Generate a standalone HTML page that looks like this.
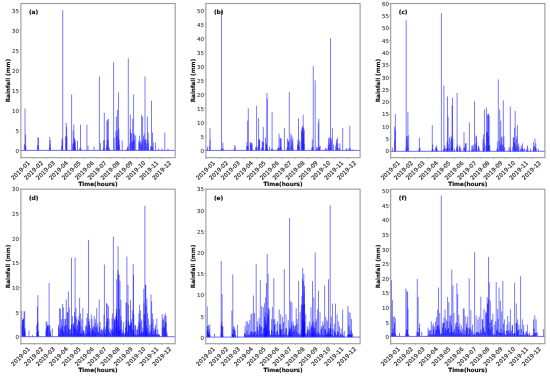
<!DOCTYPE html><html><head><meta charset="utf-8"><style>html,body{margin:0;padding:0;background:#fff;width:550px;height:378px;overflow:hidden}svg{display:block;filter:blur(0.3px)}text{font-family:"DejaVu Sans","Liberation Sans",sans-serif}</style></head><body>
<svg width="550" height="378" viewBox="0 0 550 378">
<path d="M24.40 150.4V144.2M25.10 150.4V145.1M25.80 150.4V146.1M37.50 150.4V145.1M38.20 150.4V146.1M49.40 150.4V147.8M50.10 150.4V144.5M61.70 150.4V145.7M62.40 150.4V141.1M65.60 150.4V136.3M66.30 150.4V137.6M67.00 150.4V136.4M72.60 150.4V144.3M73.30 150.4V141.8M74.00 150.4V143.4M74.70 150.4V145.1M75.40 150.4V147.4M79.50 150.4V148.6M80.20 150.4V147.9M80.90 150.4V148.4M103.30 150.4V147.9M104.00 150.4V140.3M106.00 150.4V147.9M106.70 150.4V145.1M107.40 150.4V139.8M108.10 150.4V140.3M108.80 150.4V147.2M115.80 150.4V131.1M116.50 150.4V136.9M117.20 150.4V130.4M117.90 150.4V135.4M118.60 150.4V144.6M119.30 150.4V145.3M126.70 150.4V149.2M127.40 150.4V148.5M128.10 150.4V147.7M129.70 150.4V143.7M130.40 150.4V129.6M131.10 150.4V133.2M131.80 150.4V141.7M132.50 150.4V141.9M133.20 150.4V140.2M133.90 150.4V133.2M134.60 150.4V139.5M138.60 150.4V140.5M139.30 150.4V142.5M140.00 150.4V143.4M140.70 150.4V140.9M141.40 150.4V145.2M142.10 150.4V145.2M142.80 150.4V139.1M143.50 150.4V136.1M144.20 150.4V141.5M144.90 150.4V139.3M145.60 150.4V139.8M146.30 150.4V143.7M147.00 150.4V146.8M147.70 150.4V139.7M148.40 150.4V142.8M150.60 150.4V146.3M151.30 150.4V146.1M152.00 150.4V147.7M152.70 150.4V146.5M153.40 150.4V142.4" stroke="#0000ff" stroke-width="0.7" stroke-opacity="0.65" fill="none"/>
<path d="M25.0 150.4V108.4M25.6 150.4V134.6M37.9 150.4V137.0M38.5 150.4V138.0M49.8 150.4V137.0M50.2 150.4V140.0M62.7 150.4V10.2M62.0 150.4V138.5M66.2 150.4V122.7M66.6 150.4V127.0M71.6 150.4V94.5M73.2 150.4V130.6M73.9 150.4V124.6M74.4 150.4V138.0M74.8 150.4V139.0M75.3 150.4V141.0M77.5 150.4V140.5M80.5 150.4V124.6M86.9 150.4V124.6M88.0 150.4V145.5M94.0 150.4V146.5M99.4 150.4V76.5M100.4 150.4V143.1M103.9 150.4V140.5M104.3 150.4V112.7M106.9 150.4V120.7M107.7 150.4V119.7M108.3 150.4V118.7M109.5 150.4V148.5M113.6 150.4V62.2M114.2 150.4V137.5M116.4 150.4V116.7M117.4 150.4V109.8M118.5 150.4V92.4M118.8 150.4V128.6M119.2 150.4V139.5M122.2 150.4V140.5M127.7 150.4V146.5M128.3 150.4V58.3M130.3 150.4V114.7M131.3 150.4V133.6M132.7 150.4V118.7M133.6 150.4V94.4M134.1 150.4V134.6M135.7 150.4V135.6M139.6 150.4V135.6M141.0 150.4V142.5M141.6 150.4V114.7M142.6 150.4V116.7M144.2 150.4V133.6M145.0 150.4V76.5M146.0 150.4V139.5M147.4 150.4V116.7M148.2 150.4V132.6M151.5 150.4V100.8M152.5 150.4V132.6M155.5 150.4V142.5M158.5 150.4V148.5M162.0 150.4V148.5M164.8 150.4V132.6M168.0 150.4V148.5" stroke="#0000ff" stroke-width="0.7" fill="none" stroke-opacity="0.75"/>
<line x1="20.9" y1="150.4" x2="175.2" y2="150.4" stroke="#4848ff" stroke-width="0.8"/>
<rect x="20.9" y="3.5" width="154.3" height="154.2" fill="none" stroke="#9a9a9a" stroke-width="1.1"/>
<line x1="19.4" y1="150.4" x2="20.9" y2="150.4" stroke="#9a9a9a" stroke-width="0.8"/>
<text x="19.1" y="153.1" font-size="5.5" text-anchor="end" fill="#3a3a3a" stroke="#3a3a3a" stroke-width="0.1">0</text>
<line x1="19.4" y1="130.3" x2="20.9" y2="130.3" stroke="#9a9a9a" stroke-width="0.8"/>
<text x="19.1" y="133.1" font-size="5.5" text-anchor="end" fill="#3a3a3a" stroke="#3a3a3a" stroke-width="0.1">5</text>
<line x1="19.4" y1="110.3" x2="20.9" y2="110.3" stroke="#9a9a9a" stroke-width="0.8"/>
<text x="19.1" y="113.1" font-size="5.5" text-anchor="end" fill="#3a3a3a" stroke="#3a3a3a" stroke-width="0.1">10</text>
<line x1="19.4" y1="90.2" x2="20.9" y2="90.2" stroke="#9a9a9a" stroke-width="0.8"/>
<text x="19.1" y="93.0" font-size="5.5" text-anchor="end" fill="#3a3a3a" stroke="#3a3a3a" stroke-width="0.1">15</text>
<line x1="19.4" y1="70.2" x2="20.9" y2="70.2" stroke="#9a9a9a" stroke-width="0.8"/>
<text x="19.1" y="73.0" font-size="5.5" text-anchor="end" fill="#3a3a3a" stroke="#3a3a3a" stroke-width="0.1">20</text>
<line x1="19.4" y1="50.1" x2="20.9" y2="50.1" stroke="#9a9a9a" stroke-width="0.8"/>
<text x="19.1" y="52.9" font-size="5.5" text-anchor="end" fill="#3a3a3a" stroke="#3a3a3a" stroke-width="0.1">25</text>
<line x1="19.4" y1="30.1" x2="20.9" y2="30.1" stroke="#9a9a9a" stroke-width="0.8"/>
<text x="19.1" y="32.9" font-size="5.5" text-anchor="end" fill="#3a3a3a" stroke="#3a3a3a" stroke-width="0.1">30</text>
<line x1="19.4" y1="10.0" x2="20.9" y2="10.0" stroke="#9a9a9a" stroke-width="0.8"/>
<text x="19.1" y="12.9" font-size="5.5" text-anchor="end" fill="#3a3a3a" stroke="#3a3a3a" stroke-width="0.1">35</text>
<line x1="20.9" y1="157.7" x2="20.9" y2="158.9" stroke="#9a9a9a" stroke-width="0.8"/>
<text transform="translate(20.6,170.5) rotate(-45)" x="0" y="1.9" font-size="5.75" text-anchor="middle" fill="#333" stroke="#333" stroke-width="0.22">2019-01</text>
<line x1="34.0" y1="157.7" x2="34.0" y2="158.9" stroke="#9a9a9a" stroke-width="0.8"/>
<text transform="translate(33.7,170.5) rotate(-45)" x="0" y="1.9" font-size="5.75" text-anchor="middle" fill="#333" stroke="#333" stroke-width="0.22">2019-02</text>
<line x1="45.8" y1="157.7" x2="45.8" y2="158.9" stroke="#9a9a9a" stroke-width="0.8"/>
<text transform="translate(45.5,170.5) rotate(-45)" x="0" y="1.9" font-size="5.75" text-anchor="middle" fill="#333" stroke="#333" stroke-width="0.22">2019-03</text>
<line x1="58.9" y1="157.7" x2="58.9" y2="158.9" stroke="#9a9a9a" stroke-width="0.8"/>
<text transform="translate(58.6,170.5) rotate(-45)" x="0" y="1.9" font-size="5.75" text-anchor="middle" fill="#333" stroke="#333" stroke-width="0.22">2019-04</text>
<line x1="71.6" y1="157.7" x2="71.6" y2="158.9" stroke="#9a9a9a" stroke-width="0.8"/>
<text transform="translate(71.3,170.5) rotate(-45)" x="0" y="1.9" font-size="5.75" text-anchor="middle" fill="#333" stroke="#333" stroke-width="0.22">2019-05</text>
<line x1="84.7" y1="157.7" x2="84.7" y2="158.9" stroke="#9a9a9a" stroke-width="0.8"/>
<text transform="translate(84.4,170.5) rotate(-45)" x="0" y="1.9" font-size="5.75" text-anchor="middle" fill="#333" stroke="#333" stroke-width="0.22">2019-06</text>
<line x1="97.4" y1="157.7" x2="97.4" y2="158.9" stroke="#9a9a9a" stroke-width="0.8"/>
<text transform="translate(97.1,170.5) rotate(-45)" x="0" y="1.9" font-size="5.75" text-anchor="middle" fill="#333" stroke="#333" stroke-width="0.22">2019-07</text>
<line x1="110.5" y1="157.7" x2="110.5" y2="158.9" stroke="#9a9a9a" stroke-width="0.8"/>
<text transform="translate(110.2,170.5) rotate(-45)" x="0" y="1.9" font-size="5.75" text-anchor="middle" fill="#333" stroke="#333" stroke-width="0.22">2019-08</text>
<line x1="123.6" y1="157.7" x2="123.6" y2="158.9" stroke="#9a9a9a" stroke-width="0.8"/>
<text transform="translate(123.3,170.5) rotate(-45)" x="0" y="1.9" font-size="5.75" text-anchor="middle" fill="#333" stroke="#333" stroke-width="0.22">2019-09</text>
<line x1="136.3" y1="157.7" x2="136.3" y2="158.9" stroke="#9a9a9a" stroke-width="0.8"/>
<text transform="translate(136.0,170.5) rotate(-45)" x="0" y="1.9" font-size="5.75" text-anchor="middle" fill="#333" stroke="#333" stroke-width="0.22">2019-10</text>
<line x1="149.4" y1="157.7" x2="149.4" y2="158.9" stroke="#9a9a9a" stroke-width="0.8"/>
<text transform="translate(149.1,170.5) rotate(-45)" x="0" y="1.9" font-size="5.75" text-anchor="middle" fill="#333" stroke="#333" stroke-width="0.22">2019-11</text>
<line x1="162.1" y1="157.7" x2="162.1" y2="158.9" stroke="#9a9a9a" stroke-width="0.8"/>
<text transform="translate(161.8,170.5) rotate(-45)" x="0" y="1.9" font-size="5.75" text-anchor="middle" fill="#333" stroke="#333" stroke-width="0.22">2019-12</text>
<text x="98.0" y="186.1" font-size="5.7" font-weight="bold" text-anchor="middle" fill="#111" stroke="#111" stroke-width="0.15">Time(hours)</text>
<text transform="translate(9.8,80.6) rotate(-90)" x="0" y="0" font-size="5.7" font-weight="bold" text-anchor="middle" fill="#111" stroke="#111" stroke-width="0.15">Rainfall (mm)</text>
<text x="28.9" y="14.1" font-size="5.9" font-weight="bold" fill="#111" stroke="#111" stroke-width="0.15">(a)</text>
<path d="M206.60 150.4V149.8M207.30 150.4V149.2M209.40 150.4V146.0M210.10 150.4V139.5M221.90 150.4V148.3M222.60 150.4V148.4M223.30 150.4V149.0M233.80 150.4V149.4M234.50 150.4V148.9M235.20 150.4V146.5M246.70 150.4V142.2M247.40 150.4V146.5M248.10 150.4V146.1M250.20 150.4V142.5M250.90 150.4V144.7M251.60 150.4V148.5M252.30 150.4V144.4M255.60 150.4V146.8M256.30 150.4V147.6M257.00 150.4V146.8M258.20 150.4V146.3M258.90 150.4V139.8M259.60 150.4V139.6M261.50 150.4V147.7M262.20 150.4V141.5M262.90 150.4V148.2M263.60 150.4V141.9M265.50 150.4V148.9M266.20 150.4V144.8M266.90 150.4V148.0M267.60 150.4V148.7M271.50 150.4V148.8M272.20 150.4V148.5M272.90 150.4V149.2M277.40 150.4V148.9M278.10 150.4V148.6M278.80 150.4V147.7M279.50 150.4V148.8M280.20 150.4V146.0M280.90 150.4V147.5M281.60 150.4V149.4M287.00 150.4V147.8M287.70 150.4V146.8M288.40 150.4V142.1M289.10 150.4V141.3M290.30 150.4V147.5M291.00 150.4V139.1M291.70 150.4V145.2M292.40 150.4V141.6M293.10 150.4V147.9M297.50 150.4V145.2M298.20 150.4V143.9M298.90 150.4V141.8M299.60 150.4V146.5M301.40 150.4V131.7M302.10 150.4V127.9M302.80 150.4V141.7M303.50 150.4V133.3M304.20 150.4V143.6M311.70 150.4V147.7M312.40 150.4V146.9M313.10 150.4V146.8M316.70 150.4V149.2M317.40 150.4V147.9M318.10 150.4V148.1M318.80 150.4V149.4M319.50 150.4V147.3M320.20 150.4V145.6M324.60 150.4V149.6M325.30 150.4V149.7M326.00 150.4V149.5M326.70 150.4V148.5M327.40 150.4V149.8M328.20 150.4V145.0M328.90 150.4V147.3M329.60 150.4V142.9M330.30 150.4V137.8M331.00 150.4V147.6M331.70 150.4V140.5M335.60 150.4V145.9M336.30 150.4V142.8M337.00 150.4V148.6M337.70 150.4V143.5M338.40 150.4V147.9M339.50 150.4V148.5M340.20 150.4V149.3M345.50 150.4V150.0M346.20 150.4V149.7M346.90 150.4V148.7M349.00 150.4V148.4M349.70 150.4V149.0M350.40 150.4V148.1" stroke="#0000ff" stroke-width="0.7" stroke-opacity="0.65" fill="none"/>
<path d="M207.4 150.4V146.5M210.0 150.4V128.2M221.5 150.4V10.3M222.9 150.4V142.5M234.8 150.4V145.0M247.1 150.4V146.0M247.7 150.4V120.7M248.3 150.4V108.4M250.6 150.4V142.5M251.2 150.4V142.5M251.8 150.4V143.0M256.6 150.4V105.8M258.6 150.4V118.1M259.4 150.4V139.5M262.5 150.4V141.5M263.3 150.4V127.0M265.5 150.4V137.5M266.5 150.4V143.5M266.9 150.4V92.8M267.3 150.4V98.8M269.5 150.4V146.5M272.1 150.4V112.3M278.0 150.4V147.5M279.0 150.4V133.6M280.0 150.4V137.5M280.6 150.4V138.5M281.2 150.4V138.5M284.4 150.4V127.8M287.5 150.4V138.5M288.3 150.4V140.5M289.3 150.4V92.0M290.9 150.4V133.6M291.9 150.4V135.6M292.9 150.4V138.5M297.9 150.4V139.5M298.5 150.4V118.3M299.8 150.4V140.5M301.8 150.4V129.6M302.3 150.4V127.0M302.8 150.4V126.0M303.2 150.4V114.7M303.7 150.4V128.0M304.2 150.4V130.0M312.3 150.4V139.5M313.3 150.4V66.2M315.2 150.4V80.4M316.7 150.4V146.5M318.3 150.4V122.7M318.9 150.4V118.7M319.7 150.4V146.5M325.6 150.4V147.9M328.6 150.4V138.5M329.3 150.4V137.5M330.5 150.4V38.2M331.2 150.4V138.5M332.4 150.4V128.2M333.6 150.4V144.5M336.5 150.4V139.5M337.5 150.4V137.5M339.9 150.4V143.5M342.7 150.4V128.2M346.5 150.4V148.5M349.8 150.4V125.6M353.0 150.4V149.5" stroke="#0000ff" stroke-width="0.7" fill="none" stroke-opacity="0.75"/>
<line x1="205.9" y1="150.4" x2="360.1" y2="150.4" stroke="#4848ff" stroke-width="0.8"/>
<rect x="205.9" y="3.5" width="154.2" height="154.2" fill="none" stroke="#9a9a9a" stroke-width="1.1"/>
<line x1="204.4" y1="150.4" x2="205.9" y2="150.4" stroke="#9a9a9a" stroke-width="0.8"/>
<text x="204.1" y="153.2" font-size="5.5" text-anchor="end" fill="#3a3a3a" stroke="#3a3a3a" stroke-width="0.1">0</text>
<line x1="204.4" y1="136.3" x2="205.9" y2="136.3" stroke="#9a9a9a" stroke-width="0.8"/>
<text x="204.1" y="139.2" font-size="5.5" text-anchor="end" fill="#3a3a3a" stroke="#3a3a3a" stroke-width="0.1">5</text>
<line x1="204.4" y1="122.3" x2="205.9" y2="122.3" stroke="#9a9a9a" stroke-width="0.8"/>
<text x="204.1" y="125.1" font-size="5.5" text-anchor="end" fill="#3a3a3a" stroke="#3a3a3a" stroke-width="0.1">10</text>
<line x1="204.4" y1="108.2" x2="205.9" y2="108.2" stroke="#9a9a9a" stroke-width="0.8"/>
<text x="204.1" y="111.0" font-size="5.5" text-anchor="end" fill="#3a3a3a" stroke="#3a3a3a" stroke-width="0.1">15</text>
<line x1="204.4" y1="94.2" x2="205.9" y2="94.2" stroke="#9a9a9a" stroke-width="0.8"/>
<text x="204.1" y="97.0" font-size="5.5" text-anchor="end" fill="#3a3a3a" stroke="#3a3a3a" stroke-width="0.1">20</text>
<line x1="204.4" y1="80.2" x2="205.9" y2="80.2" stroke="#9a9a9a" stroke-width="0.8"/>
<text x="204.1" y="82.9" font-size="5.5" text-anchor="end" fill="#3a3a3a" stroke="#3a3a3a" stroke-width="0.1">25</text>
<line x1="204.4" y1="66.1" x2="205.9" y2="66.1" stroke="#9a9a9a" stroke-width="0.8"/>
<text x="204.1" y="68.8" font-size="5.5" text-anchor="end" fill="#3a3a3a" stroke="#3a3a3a" stroke-width="0.1">30</text>
<line x1="204.4" y1="52.0" x2="205.9" y2="52.0" stroke="#9a9a9a" stroke-width="0.8"/>
<text x="204.1" y="54.8" font-size="5.5" text-anchor="end" fill="#3a3a3a" stroke="#3a3a3a" stroke-width="0.1">35</text>
<line x1="204.4" y1="38.0" x2="205.9" y2="38.0" stroke="#9a9a9a" stroke-width="0.8"/>
<text x="204.1" y="40.7" font-size="5.5" text-anchor="end" fill="#3a3a3a" stroke="#3a3a3a" stroke-width="0.1">40</text>
<line x1="204.4" y1="24.0" x2="205.9" y2="24.0" stroke="#9a9a9a" stroke-width="0.8"/>
<text x="204.1" y="26.6" font-size="5.5" text-anchor="end" fill="#3a3a3a" stroke="#3a3a3a" stroke-width="0.1">45</text>
<line x1="204.4" y1="9.9" x2="205.9" y2="9.9" stroke="#9a9a9a" stroke-width="0.8"/>
<text x="204.1" y="12.5" font-size="5.5" text-anchor="end" fill="#3a3a3a" stroke="#3a3a3a" stroke-width="0.1">50</text>
<line x1="205.9" y1="157.7" x2="205.9" y2="158.9" stroke="#9a9a9a" stroke-width="0.8"/>
<text transform="translate(205.6,170.5) rotate(-45)" x="0" y="1.9" font-size="5.75" text-anchor="middle" fill="#333" stroke="#333" stroke-width="0.22">2019-01</text>
<line x1="219.0" y1="157.7" x2="219.0" y2="158.9" stroke="#9a9a9a" stroke-width="0.8"/>
<text transform="translate(218.7,170.5) rotate(-45)" x="0" y="1.9" font-size="5.75" text-anchor="middle" fill="#333" stroke="#333" stroke-width="0.22">2019-02</text>
<line x1="230.8" y1="157.7" x2="230.8" y2="158.9" stroke="#9a9a9a" stroke-width="0.8"/>
<text transform="translate(230.5,170.5) rotate(-45)" x="0" y="1.9" font-size="5.75" text-anchor="middle" fill="#333" stroke="#333" stroke-width="0.22">2019-03</text>
<line x1="243.9" y1="157.7" x2="243.9" y2="158.9" stroke="#9a9a9a" stroke-width="0.8"/>
<text transform="translate(243.6,170.5) rotate(-45)" x="0" y="1.9" font-size="5.75" text-anchor="middle" fill="#333" stroke="#333" stroke-width="0.22">2019-04</text>
<line x1="256.6" y1="157.7" x2="256.6" y2="158.9" stroke="#9a9a9a" stroke-width="0.8"/>
<text transform="translate(256.3,170.5) rotate(-45)" x="0" y="1.9" font-size="5.75" text-anchor="middle" fill="#333" stroke="#333" stroke-width="0.22">2019-05</text>
<line x1="269.7" y1="157.7" x2="269.7" y2="158.9" stroke="#9a9a9a" stroke-width="0.8"/>
<text transform="translate(269.4,170.5) rotate(-45)" x="0" y="1.9" font-size="5.75" text-anchor="middle" fill="#333" stroke="#333" stroke-width="0.22">2019-06</text>
<line x1="282.4" y1="157.7" x2="282.4" y2="158.9" stroke="#9a9a9a" stroke-width="0.8"/>
<text transform="translate(282.1,170.5) rotate(-45)" x="0" y="1.9" font-size="5.75" text-anchor="middle" fill="#333" stroke="#333" stroke-width="0.22">2019-07</text>
<line x1="295.5" y1="157.7" x2="295.5" y2="158.9" stroke="#9a9a9a" stroke-width="0.8"/>
<text transform="translate(295.2,170.5) rotate(-45)" x="0" y="1.9" font-size="5.75" text-anchor="middle" fill="#333" stroke="#333" stroke-width="0.22">2019-08</text>
<line x1="308.6" y1="157.7" x2="308.6" y2="158.9" stroke="#9a9a9a" stroke-width="0.8"/>
<text transform="translate(308.3,170.5) rotate(-45)" x="0" y="1.9" font-size="5.75" text-anchor="middle" fill="#333" stroke="#333" stroke-width="0.22">2019-09</text>
<line x1="321.2" y1="157.7" x2="321.2" y2="158.9" stroke="#9a9a9a" stroke-width="0.8"/>
<text transform="translate(320.9,170.5) rotate(-45)" x="0" y="1.9" font-size="5.75" text-anchor="middle" fill="#333" stroke="#333" stroke-width="0.22">2019-10</text>
<line x1="334.3" y1="157.7" x2="334.3" y2="158.9" stroke="#9a9a9a" stroke-width="0.8"/>
<text transform="translate(334.0,170.5) rotate(-45)" x="0" y="1.9" font-size="5.75" text-anchor="middle" fill="#333" stroke="#333" stroke-width="0.22">2019-11</text>
<line x1="347.0" y1="157.7" x2="347.0" y2="158.9" stroke="#9a9a9a" stroke-width="0.8"/>
<text transform="translate(346.7,170.5) rotate(-45)" x="0" y="1.9" font-size="5.75" text-anchor="middle" fill="#333" stroke="#333" stroke-width="0.22">2019-12</text>
<text x="283.0" y="186.1" font-size="5.7" font-weight="bold" text-anchor="middle" fill="#111" stroke="#111" stroke-width="0.15">Time(hours)</text>
<text transform="translate(194.8,80.6) rotate(-90)" x="0" y="0" font-size="5.7" font-weight="bold" text-anchor="middle" fill="#111" stroke="#111" stroke-width="0.15">Rainfall (mm)</text>
<text x="213.9" y="14.1" font-size="5.9" font-weight="bold" fill="#111" stroke="#111" stroke-width="0.15">(b)</text>
<path d="M394.70 151.3V140.7M395.40 151.3V130.4M405.90 151.3V147.8M406.60 151.3V139.7M407.30 151.3V136.2M408.00 151.3V146.4M408.70 151.3V135.2M418.80 151.3V149.2M419.50 151.3V148.1M420.20 151.3V147.6M431.70 151.3V149.9M432.40 151.3V149.0M433.10 151.3V149.7M435.20 151.3V149.4M435.90 151.3V146.6M436.60 151.3V148.7M437.30 151.3V149.0M443.20 151.3V150.0M443.90 151.3V148.9M444.60 151.3V148.7M445.30 151.3V148.1M446.20 151.3V148.3M446.90 151.3V148.1M447.60 151.3V148.5M448.30 151.3V144.4M449.00 151.3V148.5M450.10 151.3V147.9M450.80 151.3V140.8M451.50 151.3V137.8M452.20 151.3V145.3M452.90 151.3V138.8M456.50 151.3V147.1M457.20 151.3V148.7M457.90 151.3V148.2M459.40 151.3V146.2M460.10 151.3V149.2M460.80 151.3V147.5M463.80 151.3V148.0M464.50 151.3V146.8M465.20 151.3V149.1M465.90 151.3V143.2M472.00 151.3V149.3M472.70 151.3V146.1M473.40 151.3V149.0M475.30 151.3V144.3M476.00 151.3V146.3M476.70 151.3V141.9M477.90 151.3V149.2M478.60 151.3V145.5M479.30 151.3V147.9M482.90 151.3V139.4M483.60 151.3V147.6M484.30 151.3V143.0M485.80 151.3V145.2M486.50 151.3V132.3M487.20 151.3V132.9M487.90 151.3V146.9M488.60 151.3V135.7M489.30 151.3V145.0M496.70 151.3V149.3M497.40 151.3V147.4M498.10 151.3V149.2M499.70 151.3V140.6M500.40 151.3V145.3M501.10 151.3V143.7M501.80 151.3V136.4M502.50 151.3V145.1M503.20 151.3V144.6M503.90 151.3V148.1M504.60 151.3V147.1M509.00 151.3V147.0M509.70 151.3V149.7M510.40 151.3V147.6M512.60 151.3V147.1M513.30 151.3V137.2M514.00 151.3V142.0M514.70 151.3V142.6M515.40 151.3V145.0M516.10 151.3V147.5M516.80 151.3V135.6M517.60 151.3V145.8M518.30 151.3V149.5M519.00 151.3V146.4M520.60 151.3V148.9M521.30 151.3V147.9M522.00 151.3V149.7M522.70 151.3V148.6M523.40 151.3V148.8M526.50 151.3V149.1M527.20 151.3V150.1M527.90 151.3V147.6M533.50 151.3V141.7M534.20 151.3V145.8M534.90 151.3V146.6M535.60 151.3V147.6M536.30 151.3V148.5" stroke="#0000ff" stroke-width="0.7" stroke-opacity="0.65" fill="none"/>
<path d="M392.3 151.3V147.5M394.6 151.3V126.6M395.4 151.3V114.1M406.2 151.3V20.2M406.9 151.3V136.0M407.9 151.3V111.7M419.4 151.3V137.5M432.3 151.3V125.2M432.7 151.3V144.5M436.0 151.3V147.5M436.6 151.3V145.5M441.4 151.3V13.1M443.9 151.3V85.4M444.6 151.3V145.5M447.1 151.3V141.5M447.5 151.3V96.5M448.1 151.3V116.7M449.5 151.3V137.5M451.1 151.3V135.6M452.1 151.3V105.8M452.5 151.3V97.9M454.5 151.3V148.5M457.1 151.3V92.9M457.5 151.3V144.5M459.8 151.3V145.5M464.0 151.3V132.2M465.4 151.3V143.5M466.0 151.3V143.5M469.4 151.3V122.5M471.9 151.3V145.5M473.3 151.3V144.5M474.5 151.3V101.4M475.9 151.3V135.6M476.5 151.3V136.5M478.5 151.3V146.5M483.5 151.3V134.6M484.4 151.3V109.4M486.4 151.3V107.5M487.2 151.3V131.6M487.6 151.3V115.0M488.1 151.3V113.5M488.6 151.3V114.0M489.2 151.3V116.0M489.8 151.3V145.5M497.7 151.3V141.5M498.3 151.3V79.4M499.7 151.3V109.4M500.7 151.3V120.7M501.7 151.3V137.5M503.3 151.3V100.4M503.9 151.3V136.5M510.3 151.3V106.5M513.6 151.3V137.5M514.6 151.3V127.6M515.2 151.3V110.8M516.2 151.3V138.5M517.4 151.3V125.2M518.6 151.3V143.5M521.2 151.3V145.5M522.5 151.3V143.5M524.5 151.3V148.5M527.5 151.3V145.5M530.5 151.3V148.5M533.5 151.3V147.5M535.0 151.3V138.5M535.8 151.3V143.5M538.4 151.3V148.5" stroke="#0000ff" stroke-width="0.7" fill="none" stroke-opacity="0.75"/>
<line x1="390.7" y1="151.3" x2="544.9" y2="151.3" stroke="#4848ff" stroke-width="0.8"/>
<rect x="390.7" y="3.5" width="154.2" height="154.2" fill="none" stroke="#9a9a9a" stroke-width="1.1"/>
<line x1="389.2" y1="151.3" x2="390.7" y2="151.3" stroke="#9a9a9a" stroke-width="0.8"/>
<text x="388.9" y="153.2" font-size="5.5" text-anchor="end" fill="#3a3a3a" stroke="#3a3a3a" stroke-width="0.1">0</text>
<line x1="389.2" y1="139.0" x2="390.7" y2="139.0" stroke="#9a9a9a" stroke-width="0.8"/>
<text x="388.9" y="141.0" font-size="5.5" text-anchor="end" fill="#3a3a3a" stroke="#3a3a3a" stroke-width="0.1">5</text>
<line x1="389.2" y1="126.7" x2="390.7" y2="126.7" stroke="#9a9a9a" stroke-width="0.8"/>
<text x="388.9" y="128.7" font-size="5.5" text-anchor="end" fill="#3a3a3a" stroke="#3a3a3a" stroke-width="0.1">10</text>
<line x1="389.2" y1="114.4" x2="390.7" y2="114.4" stroke="#9a9a9a" stroke-width="0.8"/>
<text x="388.9" y="116.4" font-size="5.5" text-anchor="end" fill="#3a3a3a" stroke="#3a3a3a" stroke-width="0.1">15</text>
<line x1="389.2" y1="102.0" x2="390.7" y2="102.0" stroke="#9a9a9a" stroke-width="0.8"/>
<text x="388.9" y="104.1" font-size="5.5" text-anchor="end" fill="#3a3a3a" stroke="#3a3a3a" stroke-width="0.1">20</text>
<line x1="389.2" y1="89.7" x2="390.7" y2="89.7" stroke="#9a9a9a" stroke-width="0.8"/>
<text x="388.9" y="91.8" font-size="5.5" text-anchor="end" fill="#3a3a3a" stroke="#3a3a3a" stroke-width="0.1">25</text>
<line x1="389.2" y1="77.4" x2="390.7" y2="77.4" stroke="#9a9a9a" stroke-width="0.8"/>
<text x="388.9" y="79.5" font-size="5.5" text-anchor="end" fill="#3a3a3a" stroke="#3a3a3a" stroke-width="0.1">30</text>
<line x1="389.2" y1="65.1" x2="390.7" y2="65.1" stroke="#9a9a9a" stroke-width="0.8"/>
<text x="388.9" y="67.2" font-size="5.5" text-anchor="end" fill="#3a3a3a" stroke="#3a3a3a" stroke-width="0.1">35</text>
<line x1="389.2" y1="52.8" x2="390.7" y2="52.8" stroke="#9a9a9a" stroke-width="0.8"/>
<text x="388.9" y="54.9" font-size="5.5" text-anchor="end" fill="#3a3a3a" stroke="#3a3a3a" stroke-width="0.1">40</text>
<line x1="389.2" y1="40.5" x2="390.7" y2="40.5" stroke="#9a9a9a" stroke-width="0.8"/>
<text x="388.9" y="42.6" font-size="5.5" text-anchor="end" fill="#3a3a3a" stroke="#3a3a3a" stroke-width="0.1">45</text>
<line x1="389.2" y1="28.1" x2="390.7" y2="28.1" stroke="#9a9a9a" stroke-width="0.8"/>
<text x="388.9" y="30.3" font-size="5.5" text-anchor="end" fill="#3a3a3a" stroke="#3a3a3a" stroke-width="0.1">50</text>
<line x1="389.2" y1="15.8" x2="390.7" y2="15.8" stroke="#9a9a9a" stroke-width="0.8"/>
<text x="388.9" y="18.0" font-size="5.5" text-anchor="end" fill="#3a3a3a" stroke="#3a3a3a" stroke-width="0.1">55</text>
<line x1="389.2" y1="3.5" x2="390.7" y2="3.5" stroke="#9a9a9a" stroke-width="0.8"/>
<text x="388.9" y="5.8" font-size="5.5" text-anchor="end" fill="#3a3a3a" stroke="#3a3a3a" stroke-width="0.1">60</text>
<line x1="390.7" y1="157.7" x2="390.7" y2="158.9" stroke="#9a9a9a" stroke-width="0.8"/>
<text transform="translate(390.4,170.5) rotate(-45)" x="0" y="1.9" font-size="5.75" text-anchor="middle" fill="#333" stroke="#333" stroke-width="0.22">2019-01</text>
<line x1="403.8" y1="157.7" x2="403.8" y2="158.9" stroke="#9a9a9a" stroke-width="0.8"/>
<text transform="translate(403.5,170.5) rotate(-45)" x="0" y="1.9" font-size="5.75" text-anchor="middle" fill="#333" stroke="#333" stroke-width="0.22">2019-02</text>
<line x1="415.6" y1="157.7" x2="415.6" y2="158.9" stroke="#9a9a9a" stroke-width="0.8"/>
<text transform="translate(415.3,170.5) rotate(-45)" x="0" y="1.9" font-size="5.75" text-anchor="middle" fill="#333" stroke="#333" stroke-width="0.22">2019-03</text>
<line x1="428.7" y1="157.7" x2="428.7" y2="158.9" stroke="#9a9a9a" stroke-width="0.8"/>
<text transform="translate(428.4,170.5) rotate(-45)" x="0" y="1.9" font-size="5.75" text-anchor="middle" fill="#333" stroke="#333" stroke-width="0.22">2019-04</text>
<line x1="441.4" y1="157.7" x2="441.4" y2="158.9" stroke="#9a9a9a" stroke-width="0.8"/>
<text transform="translate(441.1,170.5) rotate(-45)" x="0" y="1.9" font-size="5.75" text-anchor="middle" fill="#333" stroke="#333" stroke-width="0.22">2019-05</text>
<line x1="454.5" y1="157.7" x2="454.5" y2="158.9" stroke="#9a9a9a" stroke-width="0.8"/>
<text transform="translate(454.2,170.5) rotate(-45)" x="0" y="1.9" font-size="5.75" text-anchor="middle" fill="#333" stroke="#333" stroke-width="0.22">2019-06</text>
<line x1="467.2" y1="157.7" x2="467.2" y2="158.9" stroke="#9a9a9a" stroke-width="0.8"/>
<text transform="translate(466.9,170.5) rotate(-45)" x="0" y="1.9" font-size="5.75" text-anchor="middle" fill="#333" stroke="#333" stroke-width="0.22">2019-07</text>
<line x1="480.3" y1="157.7" x2="480.3" y2="158.9" stroke="#9a9a9a" stroke-width="0.8"/>
<text transform="translate(480.0,170.5) rotate(-45)" x="0" y="1.9" font-size="5.75" text-anchor="middle" fill="#333" stroke="#333" stroke-width="0.22">2019-08</text>
<line x1="493.4" y1="157.7" x2="493.4" y2="158.9" stroke="#9a9a9a" stroke-width="0.8"/>
<text transform="translate(493.1,170.5) rotate(-45)" x="0" y="1.9" font-size="5.75" text-anchor="middle" fill="#333" stroke="#333" stroke-width="0.22">2019-09</text>
<line x1="506.0" y1="157.7" x2="506.0" y2="158.9" stroke="#9a9a9a" stroke-width="0.8"/>
<text transform="translate(505.7,170.5) rotate(-45)" x="0" y="1.9" font-size="5.75" text-anchor="middle" fill="#333" stroke="#333" stroke-width="0.22">2019-10</text>
<line x1="519.1" y1="157.7" x2="519.1" y2="158.9" stroke="#9a9a9a" stroke-width="0.8"/>
<text transform="translate(518.8,170.5) rotate(-45)" x="0" y="1.9" font-size="5.75" text-anchor="middle" fill="#333" stroke="#333" stroke-width="0.22">2019-11</text>
<line x1="531.8" y1="157.7" x2="531.8" y2="158.9" stroke="#9a9a9a" stroke-width="0.8"/>
<text transform="translate(531.5,170.5) rotate(-45)" x="0" y="1.9" font-size="5.75" text-anchor="middle" fill="#333" stroke="#333" stroke-width="0.22">2019-12</text>
<text x="467.8" y="186.1" font-size="5.7" font-weight="bold" text-anchor="middle" fill="#111" stroke="#111" stroke-width="0.15">Time(hours)</text>
<text transform="translate(379.6,80.6) rotate(-90)" x="0" y="0" font-size="5.7" font-weight="bold" text-anchor="middle" fill="#111" stroke="#111" stroke-width="0.15">Rainfall (mm)</text>
<text x="398.7" y="14.1" font-size="5.9" font-weight="bold" fill="#111" stroke="#111" stroke-width="0.15">(c)</text>
<path d="M22.05 336.7V325.4M22.80 336.7V319.8M23.55 336.7V319.1M24.30 336.7V330.0M25.05 336.7V332.2M37.05 336.7V332.7M37.80 336.7V322.3M38.55 336.7V334.9M46.05 336.7V330.3M46.80 336.7V327.8M47.55 336.7V325.0M48.30 336.7V325.0M49.05 336.7V326.9M49.80 336.7V333.5M50.55 336.7V334.4M58.80 336.7V327.6M59.55 336.7V333.9M60.30 336.7V329.7M61.05 336.7V327.4M61.80 336.7V329.1M62.55 336.7V325.6M63.30 336.7V331.5M64.05 336.7V331.5M64.80 336.7V326.1M65.55 336.7V318.7M66.30 336.7V324.9M67.05 336.7V332.5M67.80 336.7V312.7M68.55 336.7V327.3M69.30 336.7V330.4M70.05 336.7V334.1M70.80 336.7V329.1M71.55 336.7V324.3M72.30 336.7V333.7M73.05 336.7V324.6M73.80 336.7V322.9M74.55 336.7V326.8M75.30 336.7V316.4M76.05 336.7V329.1M76.80 336.7V329.3M77.55 336.7V333.1M78.30 336.7V320.0M79.05 336.7V321.3M79.80 336.7V321.5M80.55 336.7V333.9M81.30 336.7V332.9M82.05 336.7V333.5M82.80 336.7V329.6M83.55 336.7V331.1M84.30 336.7V333.9M85.05 336.7V332.8M85.80 336.7V326.4M86.55 336.7V334.2M87.30 336.7V327.3M88.05 336.7V332.0M88.80 336.7V321.5M89.55 336.7V324.8M90.30 336.7V328.2M91.05 336.7V334.1M91.80 336.7V330.8M92.55 336.7V329.4M93.30 336.7V326.1M94.05 336.7V333.3M94.80 336.7V327.2M95.55 336.7V332.1M96.30 336.7V326.5M97.05 336.7V328.6M97.80 336.7V333.1M98.55 336.7V331.7M99.30 336.7V326.6M100.05 336.7V333.0M100.80 336.7V333.7M101.55 336.7V329.4M102.30 336.7V334.2M103.05 336.7V330.1M103.80 336.7V327.7M104.55 336.7V332.7M105.30 336.7V334.4M106.05 336.7V326.4M106.80 336.7V321.8M107.55 336.7V318.3M108.30 336.7V329.1M109.05 336.7V332.3M109.80 336.7V332.9M110.55 336.7V334.2M111.30 336.7V330.3M112.05 336.7V330.4M112.80 336.7V329.1M113.55 336.7V332.5M114.30 336.7V321.2M115.05 336.7V320.0M115.80 336.7V328.6M116.55 336.7V313.2M117.30 336.7V319.7M118.05 336.7V327.1M118.80 336.7V325.2M119.55 336.7V331.2M120.30 336.7V329.8M121.05 336.7V320.6M121.80 336.7V333.4M122.55 336.7V333.3M123.30 336.7V331.8M124.05 336.7V334.7M124.80 336.7V333.9M125.55 336.7V327.4M126.30 336.7V320.6M127.05 336.7V333.1M127.80 336.7V331.2M128.55 336.7V321.4M129.30 336.7V325.5M130.05 336.7V325.8M130.80 336.7V323.0M131.55 336.7V322.6M132.30 336.7V329.2M133.05 336.7V331.8M133.80 336.7V329.0M134.55 336.7V334.1M135.30 336.7V325.5M136.05 336.7V334.8M136.80 336.7V335.2M137.55 336.7V329.6M138.30 336.7V334.3M139.05 336.7V321.6M139.80 336.7V324.0M140.55 336.7V334.0M141.30 336.7V331.3M142.05 336.7V333.0M142.80 336.7V332.6M143.55 336.7V331.4M144.30 336.7V314.4M145.05 336.7V321.0M145.80 336.7V330.5M146.55 336.7V326.4M147.30 336.7V331.9M148.05 336.7V328.7M148.80 336.7V334.0M149.55 336.7V332.2M150.30 336.7V333.6M151.05 336.7V330.2M151.80 336.7V323.9M152.55 336.7V334.0M153.30 336.7V334.9M154.05 336.7V330.9M154.80 336.7V334.3M155.55 336.7V329.5M156.30 336.7V334.3M157.05 336.7V333.8M157.80 336.7V335.2M158.55 336.7V333.9M159.30 336.7V334.9M162.30 336.7V327.7M163.05 336.7V319.9M163.80 336.7V325.9M164.55 336.7V327.9M165.30 336.7V321.5M166.05 336.7V323.1M166.80 336.7V334.2" stroke="#0000ff" stroke-width="0.7" stroke-opacity="0.9" fill="none"/>
<path d="M71.5 336.7V257.9M75.1 336.7V257.4M88.5 336.7V239.9M104.4 336.7V264.6M113.4 336.7V236.7M118.1 336.7V246.2M126.9 336.7V256.5M133.2 336.7V264.2M144.9 336.7V205.7M21.7 336.7V310.4M22.6 336.7V320.0M23.2 336.7V318.0M24.1 336.7V311.1M24.7 336.7V311.5M25.1 336.7V327.8M29.0 336.7V330.7M32.4 336.7V335.0M36.7 336.7V324.9M37.5 336.7V306.7M37.9 336.7V295.1M38.6 336.7V330.7M46.2 336.7V321.3M46.9 336.7V322.0M47.6 336.7V326.4M49.1 336.7V283.0M49.8 336.7V324.9M50.5 336.7V330.7M52.3 336.7V328.5M58.5 336.7V324.9M59.6 336.7V308.2M60.4 336.7V308.9M61.5 336.7V319.1M62.6 336.7V303.8M63.3 336.7V307.5M64.1 336.7V319.1M65.1 336.7V324.9M66.3 336.7V299.5M67.3 336.7V311.8M68.4 336.7V291.5M69.2 336.7V307.5M70.2 336.7V329.3M72.4 336.7V316.2M73.5 336.7V324.9M74.5 336.7V311.8M76.0 336.7V307.5M76.7 336.7V318.4M77.5 336.7V324.9M78.2 336.7V326.4M78.9 336.7V316.2M79.6 336.7V298.0M80.4 336.7V313.3M81.1 336.7V326.4M81.8 336.7V319.1M82.8 336.7V308.2M84.0 336.7V330.7M86.2 336.7V324.9M86.9 336.7V317.6M87.6 336.7V313.3M89.1 336.7V319.1M89.8 336.7V330.7M91.3 336.7V314.7M92.0 336.7V319.1M92.7 336.7V327.8M93.5 336.7V330.7M94.2 336.7V316.2M94.9 336.7V323.5M95.6 336.7V319.1M96.7 336.7V308.2M97.7 336.7V323.5M99.2 336.7V299.5M100.1 336.7V322.0M101.1 336.7V329.3M102.5 336.7V330.7M104.0 336.7V314.7M105.5 336.7V329.3M106.5 336.7V303.1M107.3 336.7V303.8M108.4 336.7V306.0M109.1 336.7V319.1M110.3 336.7V328.5M112.0 336.7V317.6M112.7 336.7V313.3M114.2 336.7V319.1M114.9 336.7V318.4M115.6 336.7V316.2M116.4 336.7V308.9M116.7 336.7V279.3M117.8 336.7V270.0M118.5 336.7V274.0M119.1 336.7V275.0M119.3 336.7V308.9M120.0 336.7V281.0M120.9 336.7V300.0M121.0 336.7V316.2M122.2 336.7V329.3M123.6 336.7V322.0M125.1 336.7V332.2M126.0 336.7V302.7M126.8 336.7V302.4M128.0 336.7V284.8M128.3 336.7V304.5M129.5 336.7V324.9M130.5 336.7V300.2M131.3 336.7V319.1M132.4 336.7V310.4M133.5 336.7V275.0M133.8 336.7V314.7M135.0 336.7V324.9M136.7 336.7V329.3M137.9 336.7V326.4M138.9 336.7V313.3M139.6 336.7V304.5M140.4 336.7V310.4M141.1 336.7V319.1M141.8 336.7V320.5M142.8 336.7V327.8M143.8 336.7V288.8M144.0 336.7V303.1M145.5 336.7V285.0M145.8 336.7V284.8M146.2 336.7V306.0M146.9 336.7V298.7M147.6 336.7V313.3M148.4 336.7V319.1M149.8 336.7V324.9M151.0 336.7V294.4M151.6 336.7V301.6M152.4 336.7V313.3M153.2 336.7V319.1M153.9 336.7V327.8M154.9 336.7V329.3M155.6 336.7V324.9M156.8 336.7V318.4M157.8 336.7V329.3M159.3 336.7V335.0M162.2 336.7V314.0M163.2 336.7V318.4M164.4 336.7V315.5M165.4 336.7V313.3M166.1 336.7V316.2M167.0 336.7V332.2M168.7 336.7V336.5" stroke="#0000ff" stroke-width="0.7" fill="none" stroke-opacity="0.75"/>
<line x1="20.9" y1="336.7" x2="175.2" y2="336.7" stroke="#4848ff" stroke-width="0.8"/>
<rect x="20.9" y="189.2" width="154.3" height="154.5" fill="none" stroke="#9a9a9a" stroke-width="1.1"/>
<line x1="19.4" y1="336.7" x2="20.9" y2="336.7" stroke="#9a9a9a" stroke-width="0.8"/>
<text x="19.1" y="339.3" font-size="5.5" text-anchor="end" fill="#3a3a3a" stroke="#3a3a3a" stroke-width="0.1">0</text>
<line x1="19.4" y1="312.1" x2="20.9" y2="312.1" stroke="#9a9a9a" stroke-width="0.8"/>
<text x="19.1" y="314.6" font-size="5.5" text-anchor="end" fill="#3a3a3a" stroke="#3a3a3a" stroke-width="0.1">5</text>
<line x1="19.4" y1="287.5" x2="20.9" y2="287.5" stroke="#9a9a9a" stroke-width="0.8"/>
<text x="19.1" y="289.9" font-size="5.5" text-anchor="end" fill="#3a3a3a" stroke="#3a3a3a" stroke-width="0.1">10</text>
<line x1="19.4" y1="262.9" x2="20.9" y2="262.9" stroke="#9a9a9a" stroke-width="0.8"/>
<text x="19.1" y="265.2" font-size="5.5" text-anchor="end" fill="#3a3a3a" stroke="#3a3a3a" stroke-width="0.1">15</text>
<line x1="19.4" y1="238.3" x2="20.9" y2="238.3" stroke="#9a9a9a" stroke-width="0.8"/>
<text x="19.1" y="240.5" font-size="5.5" text-anchor="end" fill="#3a3a3a" stroke="#3a3a3a" stroke-width="0.1">20</text>
<line x1="19.4" y1="213.7" x2="20.9" y2="213.7" stroke="#9a9a9a" stroke-width="0.8"/>
<text x="19.1" y="215.8" font-size="5.5" text-anchor="end" fill="#3a3a3a" stroke="#3a3a3a" stroke-width="0.1">25</text>
<line x1="19.4" y1="189.1" x2="20.9" y2="189.1" stroke="#9a9a9a" stroke-width="0.8"/>
<text x="19.1" y="191.0" font-size="5.5" text-anchor="end" fill="#3a3a3a" stroke="#3a3a3a" stroke-width="0.1">30</text>
<line x1="20.9" y1="343.7" x2="20.9" y2="344.9" stroke="#9a9a9a" stroke-width="0.8"/>
<text transform="translate(20.6,356.6) rotate(-45)" x="0" y="1.9" font-size="5.75" text-anchor="middle" fill="#333" stroke="#333" stroke-width="0.22">2019-01</text>
<line x1="34.0" y1="343.7" x2="34.0" y2="344.9" stroke="#9a9a9a" stroke-width="0.8"/>
<text transform="translate(33.7,356.6) rotate(-45)" x="0" y="1.9" font-size="5.75" text-anchor="middle" fill="#333" stroke="#333" stroke-width="0.22">2019-02</text>
<line x1="45.8" y1="343.7" x2="45.8" y2="344.9" stroke="#9a9a9a" stroke-width="0.8"/>
<text transform="translate(45.5,356.6) rotate(-45)" x="0" y="1.9" font-size="5.75" text-anchor="middle" fill="#333" stroke="#333" stroke-width="0.22">2019-03</text>
<line x1="58.9" y1="343.7" x2="58.9" y2="344.9" stroke="#9a9a9a" stroke-width="0.8"/>
<text transform="translate(58.6,356.6) rotate(-45)" x="0" y="1.9" font-size="5.75" text-anchor="middle" fill="#333" stroke="#333" stroke-width="0.22">2019-04</text>
<line x1="71.6" y1="343.7" x2="71.6" y2="344.9" stroke="#9a9a9a" stroke-width="0.8"/>
<text transform="translate(71.3,356.6) rotate(-45)" x="0" y="1.9" font-size="5.75" text-anchor="middle" fill="#333" stroke="#333" stroke-width="0.22">2019-05</text>
<line x1="84.7" y1="343.7" x2="84.7" y2="344.9" stroke="#9a9a9a" stroke-width="0.8"/>
<text transform="translate(84.4,356.6) rotate(-45)" x="0" y="1.9" font-size="5.75" text-anchor="middle" fill="#333" stroke="#333" stroke-width="0.22">2019-06</text>
<line x1="97.4" y1="343.7" x2="97.4" y2="344.9" stroke="#9a9a9a" stroke-width="0.8"/>
<text transform="translate(97.1,356.6) rotate(-45)" x="0" y="1.9" font-size="5.75" text-anchor="middle" fill="#333" stroke="#333" stroke-width="0.22">2019-07</text>
<line x1="110.5" y1="343.7" x2="110.5" y2="344.9" stroke="#9a9a9a" stroke-width="0.8"/>
<text transform="translate(110.2,356.6) rotate(-45)" x="0" y="1.9" font-size="5.75" text-anchor="middle" fill="#333" stroke="#333" stroke-width="0.22">2019-08</text>
<line x1="123.6" y1="343.7" x2="123.6" y2="344.9" stroke="#9a9a9a" stroke-width="0.8"/>
<text transform="translate(123.3,356.6) rotate(-45)" x="0" y="1.9" font-size="5.75" text-anchor="middle" fill="#333" stroke="#333" stroke-width="0.22">2019-09</text>
<line x1="136.3" y1="343.7" x2="136.3" y2="344.9" stroke="#9a9a9a" stroke-width="0.8"/>
<text transform="translate(136.0,356.6) rotate(-45)" x="0" y="1.9" font-size="5.75" text-anchor="middle" fill="#333" stroke="#333" stroke-width="0.22">2019-10</text>
<line x1="149.4" y1="343.7" x2="149.4" y2="344.9" stroke="#9a9a9a" stroke-width="0.8"/>
<text transform="translate(149.1,356.6) rotate(-45)" x="0" y="1.9" font-size="5.75" text-anchor="middle" fill="#333" stroke="#333" stroke-width="0.22">2019-11</text>
<line x1="162.1" y1="343.7" x2="162.1" y2="344.9" stroke="#9a9a9a" stroke-width="0.8"/>
<text transform="translate(161.8,356.6) rotate(-45)" x="0" y="1.9" font-size="5.75" text-anchor="middle" fill="#333" stroke="#333" stroke-width="0.22">2019-12</text>
<text x="98.0" y="372.1" font-size="5.7" font-weight="bold" text-anchor="middle" fill="#111" stroke="#111" stroke-width="0.15">Time(hours)</text>
<text transform="translate(9.8,266.4) rotate(-90)" x="0" y="0" font-size="5.7" font-weight="bold" text-anchor="middle" fill="#111" stroke="#111" stroke-width="0.15">Rainfall (mm)</text>
<text x="28.9" y="199.8" font-size="5.9" font-weight="bold" fill="#111" stroke="#111" stroke-width="0.15">(d)</text>
<path d="M207.05 337.1V330.3M207.80 337.1V326.4M208.55 337.1V333.9M209.30 337.1V331.8M210.05 337.1V334.8M221.30 337.1V324.8M222.05 337.1V334.6M222.80 337.1V335.7M232.55 337.1V334.3M233.30 337.1V334.2M234.05 337.1V330.2M234.80 337.1V328.7M235.55 337.1V334.9M237.80 337.1V336.1M244.55 337.1V333.2M245.30 337.1V333.7M246.05 337.1V335.7M246.80 337.1V330.7M247.55 337.1V335.5M248.30 337.1V334.9M249.05 337.1V334.6M249.80 337.1V335.2M250.55 337.1V332.4M251.30 337.1V331.2M252.05 337.1V332.3M252.80 337.1V331.7M253.55 337.1V334.1M254.30 337.1V332.2M255.05 337.1V331.8M255.80 337.1V331.5M256.55 337.1V334.3M257.30 337.1V327.1M258.05 337.1V330.2M258.80 337.1V334.2M259.55 337.1V324.4M260.30 337.1V326.5M261.05 337.1V334.4M261.80 337.1V326.7M262.55 337.1V333.5M263.30 337.1V328.5M264.05 337.1V332.6M264.80 337.1V328.0M265.55 337.1V320.6M266.30 337.1V324.6M267.05 337.1V330.4M267.80 337.1V313.8M268.55 337.1V308.0M269.30 337.1V330.9M270.05 337.1V334.5M270.80 337.1V334.7M271.55 337.1V329.7M272.30 337.1V334.9M273.05 337.1V331.5M273.80 337.1V319.7M274.55 337.1V325.2M275.30 337.1V332.5M276.05 337.1V335.0M276.80 337.1V331.7M277.55 337.1V330.6M278.30 337.1V334.4M279.05 337.1V334.6M279.80 337.1V324.2M280.55 337.1V329.2M281.30 337.1V334.8M282.05 337.1V329.3M282.80 337.1V334.6M283.55 337.1V322.1M284.30 337.1V333.4M285.05 337.1V334.0M285.80 337.1V328.4M286.55 337.1V328.4M287.30 337.1V335.1M288.05 337.1V334.9M288.80 337.1V331.6M289.55 337.1V329.4M290.30 337.1V329.2M291.05 337.1V334.0M291.80 337.1V326.8M292.55 337.1V331.6M293.30 337.1V325.0M294.05 337.1V331.3M294.80 337.1V329.2M295.55 337.1V325.5M296.30 337.1V331.8M297.05 337.1V323.8M297.80 337.1V332.9M298.55 337.1V335.0M299.30 337.1V333.2M300.05 337.1V335.0M300.80 337.1V334.4M301.55 337.1V330.4M302.30 337.1V305.6M303.05 337.1V320.0M303.80 337.1V304.1M304.55 337.1V321.8M305.30 337.1V333.5M306.05 337.1V334.5M306.80 337.1V333.3M307.55 337.1V330.6M308.30 337.1V329.1M309.05 337.1V332.1M309.80 337.1V329.4M310.55 337.1V333.4M311.30 337.1V326.4M312.05 337.1V334.1M312.80 337.1V327.5M313.55 337.1V331.6M314.30 337.1V327.3M315.05 337.1V333.2M315.80 337.1V321.8M316.55 337.1V333.5M317.30 337.1V334.5M318.05 337.1V331.9M318.80 337.1V332.6M319.55 337.1V334.5M320.30 337.1V334.6M321.05 337.1V329.2M321.80 337.1V327.7M322.55 337.1V334.7M323.30 337.1V324.9M324.05 337.1V334.5M324.80 337.1V328.9M325.55 337.1V329.7M326.30 337.1V334.5M327.05 337.1V334.9M327.80 337.1V332.4M328.55 337.1V334.1M329.30 337.1V334.2M330.05 337.1V328.3M330.80 337.1V328.5M331.55 337.1V334.1M332.30 337.1V335.2M333.05 337.1V328.7M333.80 337.1V335.8M334.55 337.1V330.9M335.30 337.1V332.9M336.05 337.1V335.3M336.80 337.1V334.8M337.55 337.1V331.4M338.30 337.1V332.0M339.05 337.1V336.0M339.80 337.1V335.5M340.55 337.1V333.6M341.30 337.1V334.8M342.05 337.1V335.7M342.80 337.1V333.5M343.55 337.1V335.9M344.30 337.1V336.4M348.05 337.1V334.4M348.80 337.1V325.7M349.55 337.1V334.5M350.30 337.1V334.8M351.05 337.1V330.0M351.80 337.1V334.1" stroke="#0000ff" stroke-width="0.7" stroke-opacity="0.9" fill="none"/>
<path d="M301.80 337.1V295.8M302.50 337.1V278.8M303.20 337.1V324.9M303.90 337.1V293.3M304.60 337.1V303.5M302.30 337.1V319.2M303.00 337.1V319.4M303.70 337.1V322.7M280.20 337.1V329.2M280.90 337.1V324.5M281.60 337.1V329.7M289.50 337.1V326.7M290.20 337.1V333.5M290.90 337.1V328.3M291.60 337.1V322.3M311.00 337.1V324.5M311.70 337.1V327.5M312.40 337.1V321.5M313.10 337.1V324.4M313.80 337.1V321.3M314.50 337.1V330.9M315.20 337.1V328.4M326.40 337.1V333.7M327.10 337.1V319.6M327.80 337.1V332.1M328.50 337.1V328.2M329.20 337.1V331.1M329.90 337.1V328.3M330.60 337.1V323.0M347.90 337.1V335.0M348.60 337.1V335.0M349.30 337.1V334.0M350.00 337.1V332.2M350.70 337.1V335.4M351.40 337.1V334.8M264.50 337.1V303.2M265.20 337.1V311.6M265.90 337.1V323.1M266.60 337.1V328.4M267.30 337.1V317.7M268.00 337.1V316.3M221.00 337.1V333.5M221.70 337.1V321.7M222.40 337.1V326.7M232.20 337.1V333.3M232.90 337.1V329.0M233.60 337.1V326.9M207.00 337.1V326.0M207.70 337.1V330.7M208.40 337.1V333.4M209.10 337.1V329.1" stroke="#0000ff" stroke-width="0.7" stroke-opacity="0.65" fill="none"/>
<path d="M207.2 337.1V306.4M208.6 337.1V325.0M209.8 337.1V324.3M214.5 337.1V333.8M221.2 337.1V261.0M222.1 337.1V294.0M222.9 337.1V326.2M231.9 337.1V310.7M232.8 337.1V274.5M234.0 337.1V326.2M235.2 337.1V331.0M237.6 337.1V325.0M245.0 337.1V326.2M246.2 337.1V321.4M247.4 337.1V321.4M248.6 337.1V323.8M249.8 337.1V320.2M251.0 337.1V314.3M252.1 337.1V313.1M253.5 337.1V295.5M254.5 337.1V313.1M256.2 337.1V264.0M257.4 337.1V321.4M259.0 337.1V317.9M260.3 337.1V280.0M261.7 337.1V306.0M263.3 337.1V307.1M264.5 337.1V316.7M265.7 337.1V297.6M266.4 337.1V283.3M267.2 337.1V254.0M268.1 337.1V273.8M269.3 337.1V309.5M271.7 337.1V319.0M272.4 337.1V307.1M273.8 337.1V278.1M274.8 337.1V319.0M276.0 337.1V323.8M277.6 337.1V321.4M279.2 337.1V309.5M280.7 337.1V314.3M282.4 337.1V316.7M284.3 337.1V269.0M286.0 337.1V314.3M288.3 337.1V320.2M289.6 337.1V218.0M290.7 337.1V301.2M291.9 337.1V302.4M293.1 337.1V321.4M294.3 337.1V326.2M296.2 337.1V308.3M297.1 337.1V319.0M298.6 337.1V281.2M300.2 337.1V311.9M301.4 337.1V304.8M302.7 337.1V268.0M303.3 337.1V281.0M303.8 337.1V273.8M304.5 337.1V285.7M305.7 337.1V314.3M307.4 337.1V326.2M309.3 337.1V321.4M311.0 337.1V307.1M312.5 337.1V281.0M313.8 337.1V297.6M315.2 337.1V252.4M316.4 337.1V319.0M317.6 337.1V309.5M318.5 337.1V291.0M320.0 337.1V311.9M321.7 337.1V326.2M322.9 337.1V321.4M324.6 337.1V285.5M325.7 337.1V316.7M327.1 337.1V321.4M328.5 337.1V279.3M330.2 337.1V205.3M331.2 337.1V316.7M332.4 337.1V303.6M334.3 337.1V323.8M335.5 337.1V303.6M337.1 337.1V314.3M338.3 337.1V321.4M339.5 337.1V326.2M341.2 337.1V328.6M342.6 337.1V309.5M344.3 337.1V331.0M347.9 337.1V306.0M349.0 337.1V311.9M350.2 337.1V313.1M351.4 337.1V319.0M352.6 337.1V333.3" stroke="#0000ff" stroke-width="0.7" fill="none" stroke-opacity="0.75"/>
<line x1="205.9" y1="337.1" x2="360.1" y2="337.1" stroke="#4848ff" stroke-width="0.8"/>
<rect x="205.9" y="189.2" width="154.2" height="154.5" fill="none" stroke="#9a9a9a" stroke-width="1.1"/>
<line x1="204.4" y1="337.1" x2="205.9" y2="337.1" stroke="#9a9a9a" stroke-width="0.8"/>
<text x="204.1" y="339.8" font-size="5.5" text-anchor="end" fill="#3a3a3a" stroke="#3a3a3a" stroke-width="0.1">0</text>
<line x1="204.4" y1="316.0" x2="205.9" y2="316.0" stroke="#9a9a9a" stroke-width="0.8"/>
<text x="204.1" y="318.6" font-size="5.5" text-anchor="end" fill="#3a3a3a" stroke="#3a3a3a" stroke-width="0.1">5</text>
<line x1="204.4" y1="294.8" x2="205.9" y2="294.8" stroke="#9a9a9a" stroke-width="0.8"/>
<text x="204.1" y="297.4" font-size="5.5" text-anchor="end" fill="#3a3a3a" stroke="#3a3a3a" stroke-width="0.1">10</text>
<line x1="204.4" y1="273.7" x2="205.9" y2="273.7" stroke="#9a9a9a" stroke-width="0.8"/>
<text x="204.1" y="276.2" font-size="5.5" text-anchor="end" fill="#3a3a3a" stroke="#3a3a3a" stroke-width="0.1">15</text>
<line x1="204.4" y1="252.5" x2="205.9" y2="252.5" stroke="#9a9a9a" stroke-width="0.8"/>
<text x="204.1" y="255.0" font-size="5.5" text-anchor="end" fill="#3a3a3a" stroke="#3a3a3a" stroke-width="0.1">20</text>
<line x1="204.4" y1="231.4" x2="205.9" y2="231.4" stroke="#9a9a9a" stroke-width="0.8"/>
<text x="204.1" y="233.8" font-size="5.5" text-anchor="end" fill="#3a3a3a" stroke="#3a3a3a" stroke-width="0.1">25</text>
<line x1="204.4" y1="210.2" x2="205.9" y2="210.2" stroke="#9a9a9a" stroke-width="0.8"/>
<text x="204.1" y="212.6" font-size="5.5" text-anchor="end" fill="#3a3a3a" stroke="#3a3a3a" stroke-width="0.1">30</text>
<line x1="204.4" y1="189.1" x2="205.9" y2="189.1" stroke="#9a9a9a" stroke-width="0.8"/>
<text x="204.1" y="191.3" font-size="5.5" text-anchor="end" fill="#3a3a3a" stroke="#3a3a3a" stroke-width="0.1">35</text>
<line x1="205.9" y1="343.7" x2="205.9" y2="344.9" stroke="#9a9a9a" stroke-width="0.8"/>
<text transform="translate(205.6,356.6) rotate(-45)" x="0" y="1.9" font-size="5.75" text-anchor="middle" fill="#333" stroke="#333" stroke-width="0.22">2019-01</text>
<line x1="219.0" y1="343.7" x2="219.0" y2="344.9" stroke="#9a9a9a" stroke-width="0.8"/>
<text transform="translate(218.7,356.6) rotate(-45)" x="0" y="1.9" font-size="5.75" text-anchor="middle" fill="#333" stroke="#333" stroke-width="0.22">2019-02</text>
<line x1="230.8" y1="343.7" x2="230.8" y2="344.9" stroke="#9a9a9a" stroke-width="0.8"/>
<text transform="translate(230.5,356.6) rotate(-45)" x="0" y="1.9" font-size="5.75" text-anchor="middle" fill="#333" stroke="#333" stroke-width="0.22">2019-03</text>
<line x1="243.9" y1="343.7" x2="243.9" y2="344.9" stroke="#9a9a9a" stroke-width="0.8"/>
<text transform="translate(243.6,356.6) rotate(-45)" x="0" y="1.9" font-size="5.75" text-anchor="middle" fill="#333" stroke="#333" stroke-width="0.22">2019-04</text>
<line x1="256.6" y1="343.7" x2="256.6" y2="344.9" stroke="#9a9a9a" stroke-width="0.8"/>
<text transform="translate(256.3,356.6) rotate(-45)" x="0" y="1.9" font-size="5.75" text-anchor="middle" fill="#333" stroke="#333" stroke-width="0.22">2019-05</text>
<line x1="269.7" y1="343.7" x2="269.7" y2="344.9" stroke="#9a9a9a" stroke-width="0.8"/>
<text transform="translate(269.4,356.6) rotate(-45)" x="0" y="1.9" font-size="5.75" text-anchor="middle" fill="#333" stroke="#333" stroke-width="0.22">2019-06</text>
<line x1="282.4" y1="343.7" x2="282.4" y2="344.9" stroke="#9a9a9a" stroke-width="0.8"/>
<text transform="translate(282.1,356.6) rotate(-45)" x="0" y="1.9" font-size="5.75" text-anchor="middle" fill="#333" stroke="#333" stroke-width="0.22">2019-07</text>
<line x1="295.5" y1="343.7" x2="295.5" y2="344.9" stroke="#9a9a9a" stroke-width="0.8"/>
<text transform="translate(295.2,356.6) rotate(-45)" x="0" y="1.9" font-size="5.75" text-anchor="middle" fill="#333" stroke="#333" stroke-width="0.22">2019-08</text>
<line x1="308.6" y1="343.7" x2="308.6" y2="344.9" stroke="#9a9a9a" stroke-width="0.8"/>
<text transform="translate(308.3,356.6) rotate(-45)" x="0" y="1.9" font-size="5.75" text-anchor="middle" fill="#333" stroke="#333" stroke-width="0.22">2019-09</text>
<line x1="321.2" y1="343.7" x2="321.2" y2="344.9" stroke="#9a9a9a" stroke-width="0.8"/>
<text transform="translate(320.9,356.6) rotate(-45)" x="0" y="1.9" font-size="5.75" text-anchor="middle" fill="#333" stroke="#333" stroke-width="0.22">2019-10</text>
<line x1="334.3" y1="343.7" x2="334.3" y2="344.9" stroke="#9a9a9a" stroke-width="0.8"/>
<text transform="translate(334.0,356.6) rotate(-45)" x="0" y="1.9" font-size="5.75" text-anchor="middle" fill="#333" stroke="#333" stroke-width="0.22">2019-11</text>
<line x1="347.0" y1="343.7" x2="347.0" y2="344.9" stroke="#9a9a9a" stroke-width="0.8"/>
<text transform="translate(346.7,356.6) rotate(-45)" x="0" y="1.9" font-size="5.75" text-anchor="middle" fill="#333" stroke="#333" stroke-width="0.22">2019-12</text>
<text x="283.0" y="372.1" font-size="5.7" font-weight="bold" text-anchor="middle" fill="#111" stroke="#111" stroke-width="0.15">Time(hours)</text>
<text transform="translate(194.8,266.4) rotate(-90)" x="0" y="0" font-size="5.7" font-weight="bold" text-anchor="middle" fill="#111" stroke="#111" stroke-width="0.15">Rainfall (mm)</text>
<text x="213.9" y="199.8" font-size="5.9" font-weight="bold" fill="#111" stroke="#111" stroke-width="0.15">(e)</text>
<path d="M391.55 336.4V333.5M392.30 336.4V333.5M393.05 336.4V328.4M393.80 336.4V332.9M394.55 336.4V323.1M395.30 336.4V333.7M396.05 336.4V335.5M405.80 336.4V333.8M406.55 336.4V329.5M407.30 336.4V329.9M408.05 336.4V334.1M408.80 336.4V335.1M417.05 336.4V331.5M417.80 336.4V333.0M418.55 336.4V332.6M419.30 336.4V327.9M428.30 336.4V335.1M429.05 336.4V331.1M429.80 336.4V334.1M430.55 336.4V330.1M431.30 336.4V334.5M432.05 336.4V335.1M432.80 336.4V334.2M433.55 336.4V329.4M434.30 336.4V335.0M435.05 336.4V334.0M435.80 336.4V330.7M436.55 336.4V329.3M437.30 336.4V325.4M438.05 336.4V326.8M438.80 336.4V325.4M439.55 336.4V329.8M440.30 336.4V333.8M441.05 336.4V333.6M441.80 336.4V333.2M442.55 336.4V327.3M443.30 336.4V322.8M444.05 336.4V322.6M444.80 336.4V332.8M445.55 336.4V328.1M446.30 336.4V330.3M447.05 336.4V321.3M447.80 336.4V329.2M448.55 336.4V327.9M449.30 336.4V332.8M450.05 336.4V315.9M450.80 336.4V332.1M451.55 336.4V325.6M452.30 336.4V331.6M453.05 336.4V332.4M453.80 336.4V332.0M454.55 336.4V329.1M455.30 336.4V333.8M456.05 336.4V326.6M456.80 336.4V322.6M457.55 336.4V333.8M458.30 336.4V326.6M459.05 336.4V329.2M459.80 336.4V333.7M460.55 336.4V330.5M461.30 336.4V332.6M462.05 336.4V333.0M462.80 336.4V328.7M463.55 336.4V334.8M464.30 336.4V334.5M465.05 336.4V330.3M465.80 336.4V333.9M466.55 336.4V326.9M467.30 336.4V328.2M468.05 336.4V334.3M468.80 336.4V334.5M469.55 336.4V329.0M470.30 336.4V327.4M471.05 336.4V332.6M471.80 336.4V329.9M472.55 336.4V334.9M473.30 336.4V332.7M474.05 336.4V335.1M474.80 336.4V334.1M475.55 336.4V334.5M476.30 336.4V332.0M477.05 336.4V332.2M477.80 336.4V331.8M478.55 336.4V332.6M479.30 336.4V333.8M480.05 336.4V332.9M480.80 336.4V329.7M481.55 336.4V332.8M482.30 336.4V319.2M483.05 336.4V329.0M483.80 336.4V327.2M484.55 336.4V331.5M485.30 336.4V332.4M486.05 336.4V314.3M486.80 336.4V312.5M487.55 336.4V303.6M488.30 336.4V299.1M489.05 336.4V328.3M489.80 336.4V322.7M490.55 336.4V329.9M491.30 336.4V320.3M492.05 336.4V327.1M492.80 336.4V333.6M493.55 336.4V335.3M494.30 336.4V334.5M495.05 336.4V334.2M495.80 336.4V321.1M496.55 336.4V330.8M497.30 336.4V329.2M498.05 336.4V318.9M498.80 336.4V332.4M499.55 336.4V332.1M500.30 336.4V332.8M501.05 336.4V328.9M501.80 336.4V333.0M502.55 336.4V333.4M503.30 336.4V323.6M504.05 336.4V330.6M504.80 336.4V333.6M505.55 336.4V335.0M506.30 336.4V331.0M507.05 336.4V330.8M507.80 336.4V334.2M508.55 336.4V330.6M509.30 336.4V333.0M510.05 336.4V330.0M510.80 336.4V334.6M511.55 336.4V331.2M512.30 336.4V325.7M513.05 336.4V333.9M513.80 336.4V333.2M514.55 336.4V333.2M515.30 336.4V333.3M516.05 336.4V323.2M516.80 336.4V322.9M517.55 336.4V330.9M518.30 336.4V330.4M519.05 336.4V329.3M519.80 336.4V335.0M520.55 336.4V335.0M521.30 336.4V329.1M522.05 336.4V335.2M522.80 336.4V334.6M523.55 336.4V331.1M524.30 336.4V334.8M525.05 336.4V334.2M525.80 336.4V332.2M526.55 336.4V331.6M527.30 336.4V334.0M528.05 336.4V333.8M528.80 336.4V335.2M529.55 336.4V335.7M530.30 336.4V335.6M531.05 336.4V335.3M531.80 336.4V335.7M532.55 336.4V335.1M533.30 336.4V334.6M534.05 336.4V328.7M534.80 336.4V333.0M535.55 336.4V333.1M536.30 336.4V332.6" stroke="#0000ff" stroke-width="0.7" stroke-opacity="0.9" fill="none"/>
<path d="M391.5 336.4V280.2M392.4 336.4V300.0M393.2 336.4V317.1M394.2 336.4V316.1M395.3 336.4V318.2M399.5 336.4V333.0M405.9 336.4V288.6M406.9 336.4V290.7M407.6 336.4V292.0M408.0 336.4V308.7M417.3 336.4V279.0M418.1 336.4V297.0M419.6 336.4V323.5M421.7 336.4V332.0M428.1 336.4V327.7M429.2 336.4V330.0M431.3 336.4V321.4M432.3 336.4V325.6M433.4 336.4V323.5M434.4 336.4V326.7M435.5 336.4V321.4M436.6 336.4V317.1M437.6 336.4V309.7M438.5 336.4V287.5M439.7 336.4V312.9M441.3 336.4V195.6M442.9 336.4V323.5M444.0 336.4V317.1M445.0 336.4V309.7M446.1 336.4V319.3M447.6 336.4V297.0M448.8 336.4V302.3M449.9 336.4V321.4M451.0 336.4V315.0M451.8 336.4V269.6M452.9 336.4V285.4M453.9 336.4V312.9M455.6 336.4V323.5M456.9 336.4V283.3M457.7 336.4V293.9M458.8 336.4V315.0M459.8 336.4V323.5M461.3 336.4V325.6M463.3 336.4V308.5M464.1 336.4V308.7M465.1 336.4V316.1M466.6 336.4V323.5M467.3 336.4V316.7M468.3 336.4V327.7M469.2 336.4V278.4M470.8 336.4V310.1M472.6 336.4V324.7M474.6 336.4V252.0M476.1 336.4V315.4M477.9 336.4V319.4M479.2 336.4V316.7M480.8 336.4V296.6M482.7 336.4V319.4M484.0 336.4V308.8M485.8 336.4V311.4M487.2 336.4V296.9M488.5 336.4V257.0M489.3 336.4V282.3M490.3 336.4V300.8M491.9 336.4V319.4M492.9 336.4V314.0M494.6 336.4V324.7M496.2 336.4V282.0M497.7 336.4V308.8M499.1 336.4V287.6M500.4 336.4V300.8M501.7 336.4V311.4M502.8 336.4V281.0M504.4 336.4V319.4M507.0 336.4V324.7M507.7 336.4V316.0M509.1 336.4V322.0M510.4 336.4V309.3M512.3 336.4V324.7M514.6 336.4V283.0M516.3 336.4V303.5M517.6 336.4V319.4M518.9 336.4V324.7M520.6 336.4V276.2M522.3 336.4V319.4M523.7 336.4V324.7M527.4 336.4V324.7M529.5 336.4V332.6M533.5 336.4V319.4M534.8 336.4V315.4M536.1 336.4V319.4M537.4 336.4V332.6M543.6 336.4V329.0" stroke="#0000ff" stroke-width="0.7" fill="none" stroke-opacity="0.75"/>
<line x1="390.7" y1="336.4" x2="544.9" y2="336.4" stroke="#4848ff" stroke-width="0.8"/>
<rect x="390.7" y="189.2" width="154.2" height="154.5" fill="none" stroke="#9a9a9a" stroke-width="1.1"/>
<line x1="389.2" y1="336.4" x2="390.7" y2="336.4" stroke="#9a9a9a" stroke-width="0.8"/>
<text x="388.9" y="339.2" font-size="5.5" text-anchor="end" fill="#3a3a3a" stroke="#3a3a3a" stroke-width="0.1">0</text>
<line x1="389.2" y1="321.8" x2="390.7" y2="321.8" stroke="#9a9a9a" stroke-width="0.8"/>
<text x="388.9" y="324.6" font-size="5.5" text-anchor="end" fill="#3a3a3a" stroke="#3a3a3a" stroke-width="0.1">5</text>
<line x1="389.2" y1="307.2" x2="390.7" y2="307.2" stroke="#9a9a9a" stroke-width="0.8"/>
<text x="388.9" y="310.0" font-size="5.5" text-anchor="end" fill="#3a3a3a" stroke="#3a3a3a" stroke-width="0.1">10</text>
<line x1="389.2" y1="292.7" x2="390.7" y2="292.7" stroke="#9a9a9a" stroke-width="0.8"/>
<text x="388.9" y="295.4" font-size="5.5" text-anchor="end" fill="#3a3a3a" stroke="#3a3a3a" stroke-width="0.1">15</text>
<line x1="389.2" y1="278.1" x2="390.7" y2="278.1" stroke="#9a9a9a" stroke-width="0.8"/>
<text x="388.9" y="280.7" font-size="5.5" text-anchor="end" fill="#3a3a3a" stroke="#3a3a3a" stroke-width="0.1">20</text>
<line x1="389.2" y1="263.5" x2="390.7" y2="263.5" stroke="#9a9a9a" stroke-width="0.8"/>
<text x="388.9" y="266.1" font-size="5.5" text-anchor="end" fill="#3a3a3a" stroke="#3a3a3a" stroke-width="0.1">25</text>
<line x1="389.2" y1="248.9" x2="390.7" y2="248.9" stroke="#9a9a9a" stroke-width="0.8"/>
<text x="388.9" y="251.5" font-size="5.5" text-anchor="end" fill="#3a3a3a" stroke="#3a3a3a" stroke-width="0.1">30</text>
<line x1="389.2" y1="234.3" x2="390.7" y2="234.3" stroke="#9a9a9a" stroke-width="0.8"/>
<text x="388.9" y="236.8" font-size="5.5" text-anchor="end" fill="#3a3a3a" stroke="#3a3a3a" stroke-width="0.1">35</text>
<line x1="389.2" y1="219.8" x2="390.7" y2="219.8" stroke="#9a9a9a" stroke-width="0.8"/>
<text x="388.9" y="222.2" font-size="5.5" text-anchor="end" fill="#3a3a3a" stroke="#3a3a3a" stroke-width="0.1">40</text>
<line x1="389.2" y1="205.2" x2="390.7" y2="205.2" stroke="#9a9a9a" stroke-width="0.8"/>
<text x="388.9" y="207.6" font-size="5.5" text-anchor="end" fill="#3a3a3a" stroke="#3a3a3a" stroke-width="0.1">45</text>
<line x1="389.2" y1="190.6" x2="390.7" y2="190.6" stroke="#9a9a9a" stroke-width="0.8"/>
<text x="388.9" y="192.9" font-size="5.5" text-anchor="end" fill="#3a3a3a" stroke="#3a3a3a" stroke-width="0.1">50</text>
<line x1="390.7" y1="343.7" x2="390.7" y2="344.9" stroke="#9a9a9a" stroke-width="0.8"/>
<text transform="translate(390.4,356.6) rotate(-45)" x="0" y="1.9" font-size="5.75" text-anchor="middle" fill="#333" stroke="#333" stroke-width="0.22">2019-01</text>
<line x1="403.8" y1="343.7" x2="403.8" y2="344.9" stroke="#9a9a9a" stroke-width="0.8"/>
<text transform="translate(403.5,356.6) rotate(-45)" x="0" y="1.9" font-size="5.75" text-anchor="middle" fill="#333" stroke="#333" stroke-width="0.22">2019-02</text>
<line x1="415.6" y1="343.7" x2="415.6" y2="344.9" stroke="#9a9a9a" stroke-width="0.8"/>
<text transform="translate(415.3,356.6) rotate(-45)" x="0" y="1.9" font-size="5.75" text-anchor="middle" fill="#333" stroke="#333" stroke-width="0.22">2019-03</text>
<line x1="428.7" y1="343.7" x2="428.7" y2="344.9" stroke="#9a9a9a" stroke-width="0.8"/>
<text transform="translate(428.4,356.6) rotate(-45)" x="0" y="1.9" font-size="5.75" text-anchor="middle" fill="#333" stroke="#333" stroke-width="0.22">2019-04</text>
<line x1="441.4" y1="343.7" x2="441.4" y2="344.9" stroke="#9a9a9a" stroke-width="0.8"/>
<text transform="translate(441.1,356.6) rotate(-45)" x="0" y="1.9" font-size="5.75" text-anchor="middle" fill="#333" stroke="#333" stroke-width="0.22">2019-05</text>
<line x1="454.5" y1="343.7" x2="454.5" y2="344.9" stroke="#9a9a9a" stroke-width="0.8"/>
<text transform="translate(454.2,356.6) rotate(-45)" x="0" y="1.9" font-size="5.75" text-anchor="middle" fill="#333" stroke="#333" stroke-width="0.22">2019-06</text>
<line x1="467.2" y1="343.7" x2="467.2" y2="344.9" stroke="#9a9a9a" stroke-width="0.8"/>
<text transform="translate(466.9,356.6) rotate(-45)" x="0" y="1.9" font-size="5.75" text-anchor="middle" fill="#333" stroke="#333" stroke-width="0.22">2019-07</text>
<line x1="480.3" y1="343.7" x2="480.3" y2="344.9" stroke="#9a9a9a" stroke-width="0.8"/>
<text transform="translate(480.0,356.6) rotate(-45)" x="0" y="1.9" font-size="5.75" text-anchor="middle" fill="#333" stroke="#333" stroke-width="0.22">2019-08</text>
<line x1="493.4" y1="343.7" x2="493.4" y2="344.9" stroke="#9a9a9a" stroke-width="0.8"/>
<text transform="translate(493.1,356.6) rotate(-45)" x="0" y="1.9" font-size="5.75" text-anchor="middle" fill="#333" stroke="#333" stroke-width="0.22">2019-09</text>
<line x1="506.0" y1="343.7" x2="506.0" y2="344.9" stroke="#9a9a9a" stroke-width="0.8"/>
<text transform="translate(505.7,356.6) rotate(-45)" x="0" y="1.9" font-size="5.75" text-anchor="middle" fill="#333" stroke="#333" stroke-width="0.22">2019-10</text>
<line x1="519.1" y1="343.7" x2="519.1" y2="344.9" stroke="#9a9a9a" stroke-width="0.8"/>
<text transform="translate(518.8,356.6) rotate(-45)" x="0" y="1.9" font-size="5.75" text-anchor="middle" fill="#333" stroke="#333" stroke-width="0.22">2019-11</text>
<line x1="531.8" y1="343.7" x2="531.8" y2="344.9" stroke="#9a9a9a" stroke-width="0.8"/>
<text transform="translate(531.5,356.6) rotate(-45)" x="0" y="1.9" font-size="5.75" text-anchor="middle" fill="#333" stroke="#333" stroke-width="0.22">2019-12</text>
<text x="467.8" y="372.1" font-size="5.7" font-weight="bold" text-anchor="middle" fill="#111" stroke="#111" stroke-width="0.15">Time(hours)</text>
<text transform="translate(379.6,266.4) rotate(-90)" x="0" y="0" font-size="5.7" font-weight="bold" text-anchor="middle" fill="#111" stroke="#111" stroke-width="0.15">Rainfall (mm)</text>
<text x="398.7" y="199.8" font-size="5.9" font-weight="bold" fill="#111" stroke="#111" stroke-width="0.15">(f)</text>
</svg></body></html>
